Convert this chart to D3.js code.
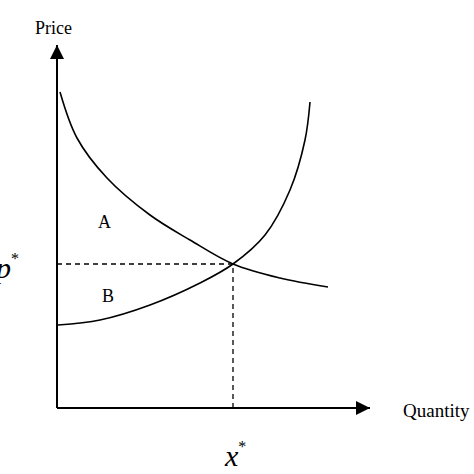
<!DOCTYPE html>
<html><head><meta charset="utf-8">
<script src="https://cdn.jsdelivr.net/npm/d3@7"></script>
<style>body{margin:0;background:#fff}</style></head>
<body><svg id="c" width="474" height="474"></svg>
<script>
// data in chart units (quantity, price)
const demand = [[3,316],[20,270],[50,230],[93,193],[133,168],[176,144],[223,130],[271,121]];
const supply = [[1,83],[43,88],[93,103],[143,125],[176,144],[208,173],[233,218],[248,268],[253,306]];
const eq = [176,144];
const labels = {price:"Price", qty:"Quantity", p:"p", x:"x", A:"A", B:"B"};

const svg = d3.select("#c");
const x = d3.scaleLinear().domain([0,313]).range([57,370]);
const y = d3.scaleLinear().domain([0,363]).range([408,45]);
const font = "Liberation Serif, Times New Roman, serif";

svg.append("defs").append("marker").attr("id","ar").attr("viewBox","0 0 10 10")
 .attr("refX",10).attr("refY",5).attr("markerWidth",14).attr("markerHeight",14)
 .attr("markerUnits","userSpaceOnUse").attr("orient","auto")
 .append("path").attr("d","M0,0L10,5L0,10Z").attr("fill","#000");

svg.append("line").attr("x1",x(0)).attr("y1",y(0)).attr("x2",x(0)).attr("y2",y(363))
 .attr("stroke","#000").attr("stroke-width",2).attr("marker-end","url(#ar)");
svg.append("line").attr("x1",x(0)).attr("y1",y(0)).attr("x2",x(313)).attr("y2",y(0))
 .attr("stroke","#000").attr("stroke-width",2).attr("marker-end","url(#ar)");

const line = d3.line().x(d=>x(d[0])).y(d=>y(d[1])).curve(d3.curveCatmullRom);
[demand,supply].forEach(s=>svg.append("path").attr("d",line(s)).attr("fill","none")
 .attr("stroke","#000").attr("stroke-width",1.6));

svg.append("path").attr("d",`M${x(0)},${y(eq[1])}H${x(eq[0])}V${y(0)}`)
 .attr("fill","none").attr("stroke","#000").attr("stroke-width",1.3).attr("stroke-dasharray","5,4");

const t=(tx,ty,s,sz,it)=>svg.append("text").attr("x",tx).attr("y",ty).text(s)
 .attr("font-family",font).attr("font-size",sz).attr("font-style",it?"italic":"normal");
t(35,34,labels.price,18);
t(403,417,labels.qty,19);
t(98,228,labels.A,18);
t(102,302,labels.B,18);
const p=t(-4,278,labels.p,30,true); p.append("tspan").attr("dy",-14).attr("font-size",16).attr("font-style","normal").text("*");
const xx=t(225,466,labels.x,30,true); xx.append("tspan").attr("dy",-14).attr("font-size",16).attr("font-style","normal").text("*");
</script></body></html>
